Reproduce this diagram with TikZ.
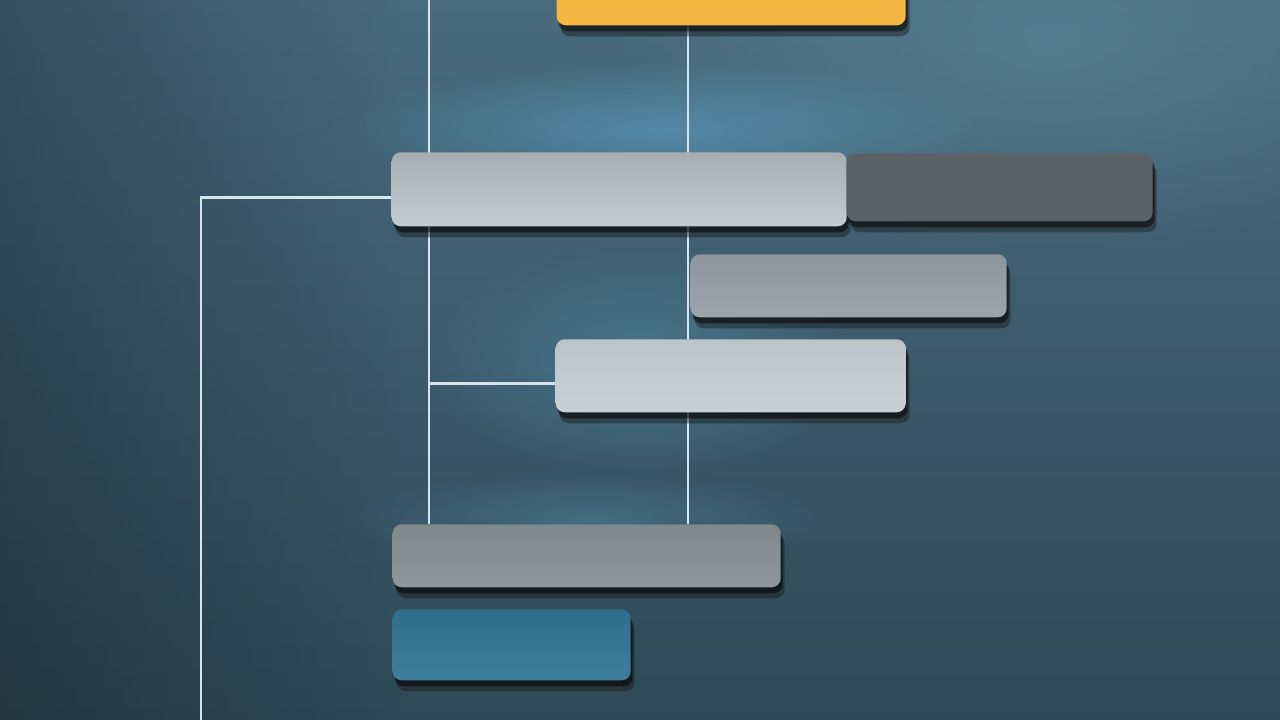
\documentclass[tikz,border=0pt]{standalone}
\usepackage{tikz}
\usetikzlibrary{calc}
\usetikzlibrary{shadows}
\usetikzlibrary{fadings}
\usepackage{color}

\pgfdeclarelayer{back}
\pgfdeclarelayer{wires}
\pgfsetlayers{back,wires,main}
\tikzfading[name=soft glow,inner color=transparent!0,outer color=transparent!100]

\begin{document}
\begin{tikzpicture}
				[line cap=round,
				%Styles
				wire/.style={line width=.75pt,draw=wirecolor},
				bar/.style={rounded corners=.09cm,inner sep=0pt,anchor=south west,
					drop shadow={shadow xshift=.04cm,shadow yshift=-.11cm,opacity=.45,fill=black!90},
					drop shadow={shadow xshift=.02cm,shadow yshift=-.06cm,opacity=.5,fill=black}},
				glow spot/.style={path fading=soft glow}
				]
				
				%Colors
				\definecolor{wirecolor}{HTML}{D6E4EC}
				\definecolor{bgtop}{HTML}{486B7E}
				\definecolor{bgbottom}{HTML}{2F4956}
				\definecolor{glow}{HTML}{5FA8CE}
				\definecolor{haze}{HTML}{5E879C}
				\definecolor{goldbar}{HTML}{F4B842}
				\definecolor{slatebar}{HTML}{5A6167}
				\definecolor{tealtop}{HTML}{2F6E8A}
				\definecolor{tealbottom}{HTML}{3D7F9B}
				\definecolor{maintop}{HTML}{A6ADB4}
				\definecolor{mainbottom}{HTML}{C3CCD3}
				\definecolor{midAtop}{HTML}{8C959D}
				\definecolor{midAbottom}{HTML}{9DA5AC}
				\definecolor{midBtop}{HTML}{BCC3C9}
				\definecolor{midBbottom}{HTML}{CAD1D6}
				\definecolor{lowtop}{HTML}{80878D}
				\definecolor{lowbottom}{HTML}{90979C}
				
				\useasboundingbox (0,0) rectangle (12.8,7.2);
				\clip (0,0) rectangle (12.8,7.2);
				
				%The graphic
				\begin{pgfonlayer}{back}
					\shade[top color=bgtop,bottom color=bgbottom] (0,0) rectangle (12.8,7.2);
					\fill[black,opacity=.25,path fading=east] (0,0) rectangle (4,7.2);
					\fill[haze,opacity=.6,glow spot] (10.5,6.8) ellipse (4.5cm and 2.2cm);
					\fill[glow,opacity=.55,glow spot] (6.6,5.9) ellipse (3.2cm and .7cm);
					\fill[glow,opacity=.35,glow spot] (6.4,3.6) ellipse (2.2cm and 1.2cm);
					\fill[glow,opacity=.3,glow spot] (5.9,2.0) ellipse (2.4cm and .5cm);
				\end{pgfonlayer}
				
				\node[bar,fill=goldbar,minimum width=3.49cm,minimum height=.7cm] (plan) at (5.56,6.94) {};
				\node[bar,top color=maintop,bottom color=mainbottom,minimum width=4.55cm,minimum height=.74cm] (main) at (3.91,4.93) {};
				\node[bar,fill=slatebar,minimum width=3.06cm,minimum height=.68cm] (side) at (8.46,4.98) {};
				\node[bar,top color=midAtop,bottom color=midAbottom,minimum width=3.16cm,minimum height=.63cm] (midA) at (6.90,4.02) {};
				\node[bar,top color=midBtop,bottom color=midBbottom,minimum width=3.50cm,minimum height=.73cm] (midB) at (5.55,3.07) {};
				\node[bar,top color=lowtop,bottom color=lowbottom,minimum width=3.88cm,minimum height=.63cm] (low) at (3.92,1.32) {};
				\node[bar,top color=tealtop,bottom color=tealbottom,minimum width=2.38cm,minimum height=.71cm] (base) at (3.92,.39) {};
				
				\coordinate (railA) at (4.29,7.2);
				\coordinate (railB) at (6.88,6.94);
				\coordinate (foot) at (2.01,0);
				
				\begin{pgfonlayer}{wires}
					\draw[wire] (railA) -- (railA |- low.north);
					\draw[wire] (railB) -- (railB |- low.north);
					\draw[wire] (railA |- midB.west) ++(0,-.08) -- ([yshift=-.08cm]midB.west);
					\draw[wire] ([yshift=-.08cm]main.west) -| (foot);
				\end{pgfonlayer}
			\end{tikzpicture}
\end{document}
